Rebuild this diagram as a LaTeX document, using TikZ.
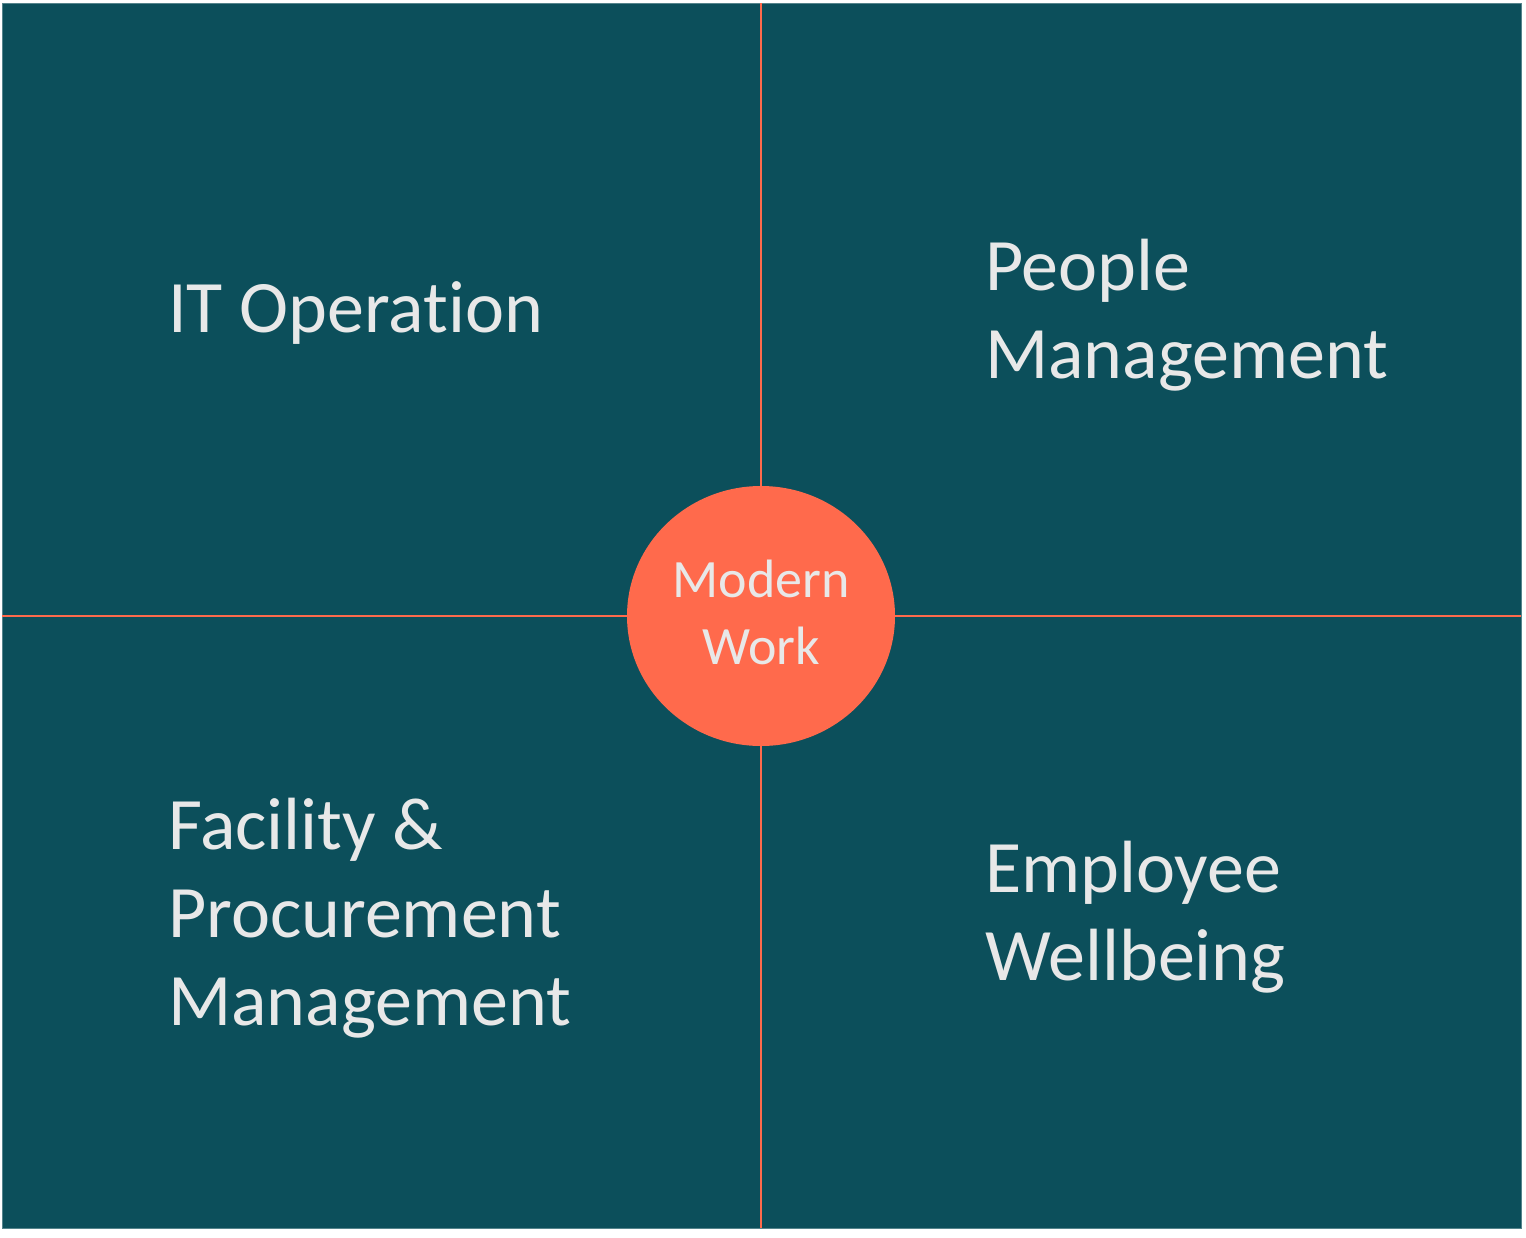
\documentclass[tikz,border=0pt]{standalone}
\usepackage{fontspec}
\setmainfont[Ligatures=NoCommon]{Carlito}
\usetikzlibrary{positioning}
\usetikzlibrary{shapes.geometric}

\definecolor{teal}{HTML}{0C4F5B}
\definecolor{coral}{HTML}{FF6A4C}
\definecolor{paleText}{HTML}{E8E8E8}

\tikzset{
    quadtext/.style={anchor=base west, inner sep=0pt, align=left, text=paleText,
        font=\fontsize{74}{88}\selectfont},
    divider/.style={coral, line width=2pt}
}

\begin{document}
\begin{tikzpicture}[x=1pt,y=-1pt]
                \useasboundingbox (0,0) rectangle (1526,1237);
                % Define the coordinates of the points
                \coordinate (nw) at (2,3);
                \coordinate (se) at (1521,1228);
                \coordinate (top) at (761,3);
                \coordinate (bottom) at (761,1228);
                \coordinate (left) at (2,616);
                \coordinate (right) at (1521,616);

                % Draw the background
                \fill[teal] (nw) rectangle (se);
                \draw[teal!70!white, line width=0.8pt] (nw) rectangle (se);

                % Draw the lines
                \draw[divider] (top) -- (bottom);
                \draw[divider] (left) -- (right);

                % The hub
                \node[ellipse, fill=coral, minimum width=268pt, minimum height=260pt, inner sep=0pt] (hub) at (761,616) {};
                \node[anchor=base, inner sep=0pt, text=paleText, align=center,
                    font=\fontsize{54}{67}\selectfont] (hublabel) at (761,664) {Modern\\Work};

                % Quadrant labels (anchored on the last baseline)
                \foreach \name/\pos/\label in {itop/{168,332}/{IT Operation},
                                               people/{985,378}/{People\\Management},
                                               facility/{168,1025}/{Facility \&\\Procurement\\Management},
                                               wellbeing/{985,980}/{Employee\\Wellbeing}}
                    \node[quadtext] (\name) at (\pos) {\label};
            \end{tikzpicture}
\end{document}
